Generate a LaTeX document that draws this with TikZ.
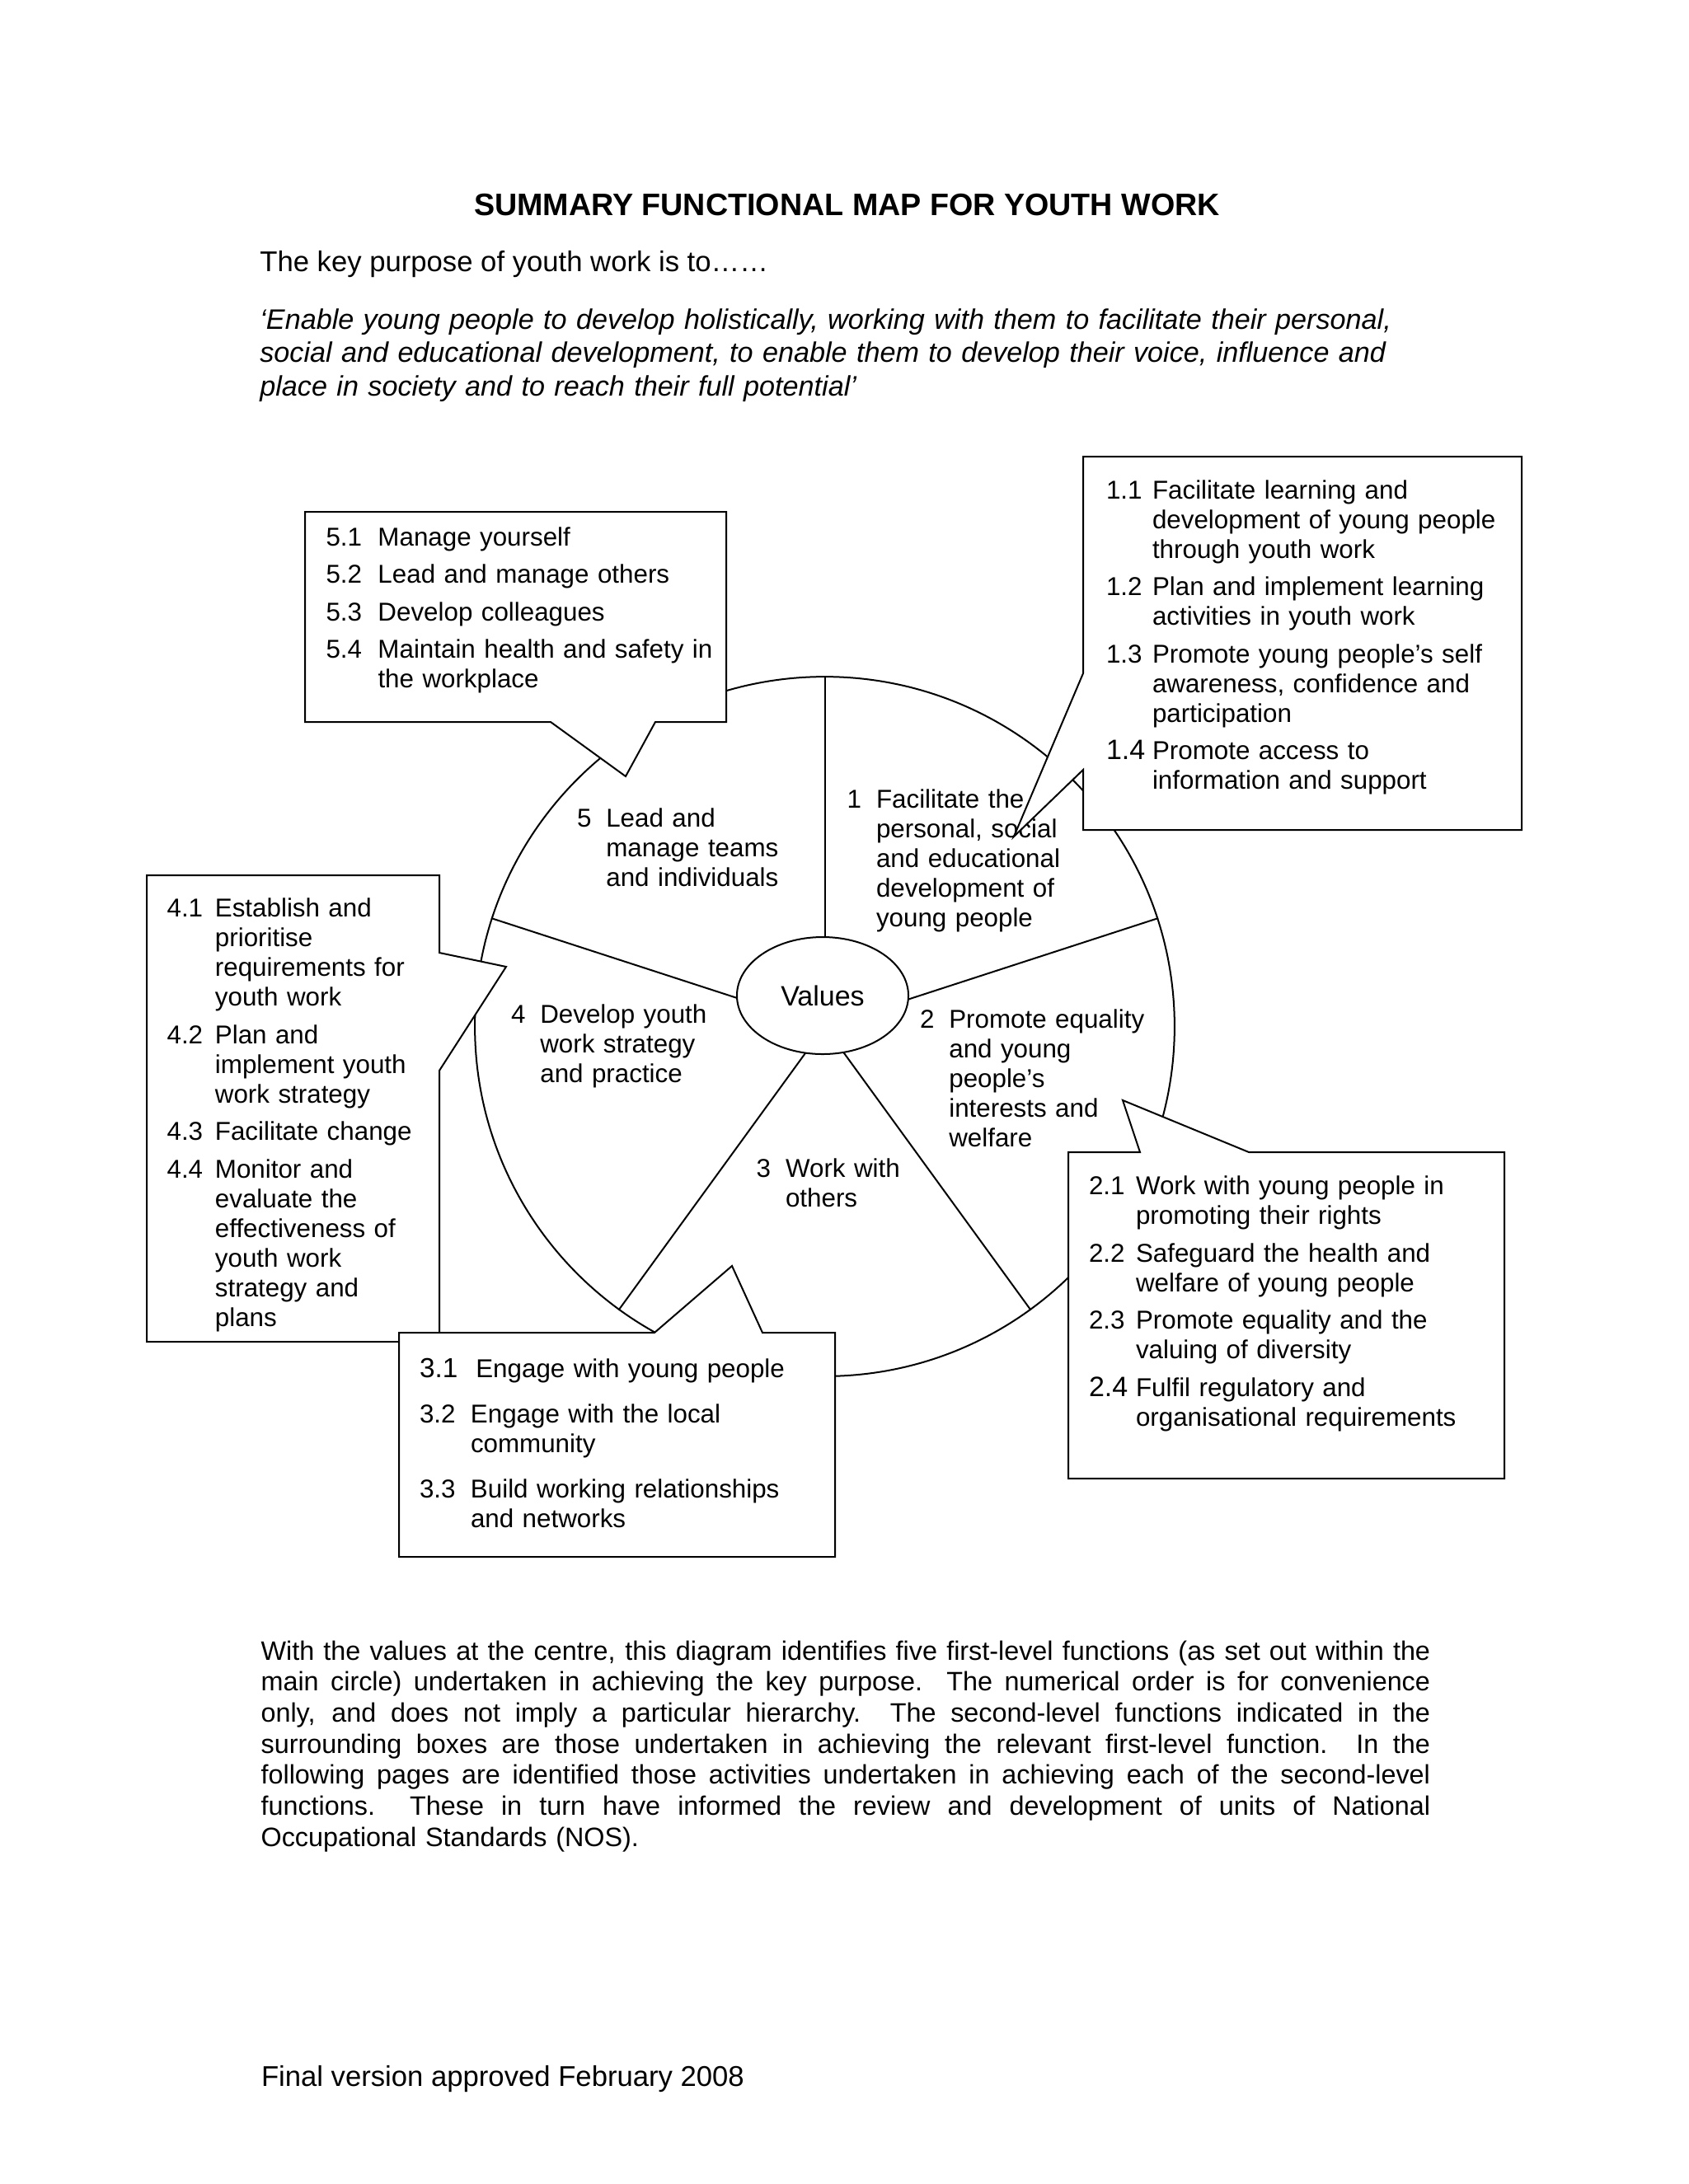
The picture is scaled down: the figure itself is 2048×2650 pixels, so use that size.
\documentclass[tikz,border=0pt]{standalone}
\usepackage{fontspec}
\setmainfont{Liberation Sans}
\usetikzlibrary{shapes.geometric}

% numbered entry with hanging indent
\newcommand{\fitem}[3]{\noindent\hangindent=#1\hangafter=1\makebox[#1][l]{#2}#3\par}
% one justified line of the closing note
\newlength{\notewd}
\setlength{\notewd}{425.5pt}
\newcommand{\jline}[1]{{\spaceskip=0pt\xspaceskip=0pt\makebox[\notewd][s]{#1}}}

\begin{document}
\begin{tikzpicture}[
  x=0.29995pt,
  y=-0.29995pt,
  line width=0.6pt,
  txt/.style={anchor=base west, inner sep=0pt, align=left},
  items/.style={txt, text width=160pt, font=\fontsize{9.4}{10.8}\selectfont\setlength{\parskip}{2.85pt}},
  sector/.style={txt, text width=100pt, font=\fontsize{9.4}{10.8}\selectfont},
  callout/.style={draw, fill=white},
  body/.style={txt, font=\fontsize{10.4}{11.2}\selectfont}
]

\useasboundingbox (0,0) rectangle (2048,2650);

\node[anchor=base, inner sep=0pt, font=\fontsize{11.3}{13}\selectfont\bfseries] (title) at (1027.5,261) {SUMMARY FUNCTIONAL MAP FOR YOUTH WORK};
\node[body] (purpose) at (314.4,329.3) {The key purpose of youth work is to……};
\node[body, text width=440pt, font=\fontsize{10.25}{12.15}\selectfont\itshape] (quote) at (314.4,399.3)
  {‘Enable young people to develop holistically, working with them to facilitate their personal,\\
   social and educational development, to enable them to develop their voice, influence and\\
   place in society and to reach their full potential’};

% the wheel
\node[circle, draw, minimum size=254.6pt, inner sep=0pt] (wheel) at (1000.5,1245.5) {};
\draw (wheel.center) -- (wheel.90);
\draw (wheel.center) -- (wheel.18);
\draw (wheel.center) -- (wheel.-54);
\draw (wheel.center) -- (wheel.-126);
\draw (wheel.center) -- (wheel.162);
\node[ellipse, draw, fill=white, minimum width=62.4pt, minimum height=42.6pt, inner sep=0pt, font=\fontsize{10.2}{12}\selectfont] (values) at (998,1208) {Values};

\node[sector] (s1) at (1026.7,980.7) {\fitem{10.6pt}{1}{Facilitate the\newline personal, social\newline and educational\newline development of\newline young people}};
\node[sector] (s2) at (1115,1247.3) {\fitem{10.6pt}{2}{Promote equality\newline and young\newline people’s\newline interests and\newline welfare}};
\node[sector] (s3) at (916.7,1428.3) {\fitem{10.6pt}{3}{Work with\newline others}};
\node[sector] (s4) at (619,1241) {\fitem{10.6pt}{4}{Develop youth\newline work strategy\newline and practice}};
\node[sector] (s5) at (699,1003.3) {\fitem{10.6pt}{5}{Lead and\newline manage teams\newline and individuals}};

% second-level boxes
\draw[callout] (370,621) -- (881,621) -- (881,876) -- (795,876) -- (759,942) -- (668,876) -- (370,876) -- cycle;
\node[items] (b5) at (394.5,662) {%
  \fitem{18.9pt}{5.1}{Manage yourself}
  \fitem{18.9pt}{5.2}{Lead and manage others}
  \fitem{18.9pt}{5.3}{Develop colleagues}
  \fitem{18.9pt}{5.4}{Maintain health and safety in\newline the workplace}};

\draw[callout] (1314,554) -- (1846,554) -- (1846,1007) -- (1314,1007) -- (1314,934) -- (1230,1015) -- (1314,817) -- cycle;
\node[items] (b1) at (1341,605) {%
  \fitem{16.8pt}{1.1}{Facilitate learning and\newline development of young people\newline through youth work}
  \fitem{16.8pt}{1.2}{Plan and implement learning\newline activities in youth work}
  \fitem{16.8pt}{1.3}{Promote young people’s self\newline awareness, confidence and\newline participation}
  \fitem{16.8pt}{{\fontsize{10.2}{10.8}\selectfont 1.4}}{Promote access to\newline information and support}};

\draw[callout] (178,1062) -- (533,1062) -- (533,1156) -- (614,1173) -- (533,1299) -- (533,1628) -- (178,1628) -- cycle;
\node[items] (b4) at (201.6,1112.8) {%
  \fitem{17.5pt}{4.1}{Establish and\newline prioritise\newline requirements for\newline youth work}
  \fitem{17.5pt}{4.2}{Plan and\newline implement youth\newline work strategy}
  \fitem{17.5pt}{4.3}{Facilitate change}
  \fitem{17.5pt}{4.4}{Monitor and\newline evaluate the\newline effectiveness of\newline youth work\newline strategy and\newline plans}};

\draw[callout] (1296,1398) -- (1383,1398) -- (1362,1335) -- (1515,1398) -- (1825,1398) -- (1825,1794) -- (1296,1794) -- cycle;
\node[items] (b2) at (1320,1449.7) {%
  \fitem{17.1pt}{2.1}{Work with young people in\newline promoting their rights}
  \fitem{17.1pt}{2.2}{Safeguard the health and\newline welfare of young people}
  \fitem{17.1pt}{2.3}{Promote equality and the\newline valuing of diversity}
  \fitem{17.1pt}{{\fontsize{10.2}{10.8}\selectfont 2.4}}{Fulfil regulatory and\newline organisational requirements}};

\draw[callout] (484,1617) -- (794,1617) -- (888,1536) -- (925,1617) -- (1013,1617) -- (1013,1889) -- (484,1889) -- cycle;
\node[items] (b3) at (508,1671) {\setlength{\parskip}{5.7pt}%
  \fitem{20.5pt}{{\fontsize{10}{10.8}\selectfont 3.1}}{Engage with young people}
  \fitem{18.6pt}{3.2}{Engage with the local\newline community}
  \fitem{18.6pt}{3.3}{Build working relationships\newline and networks}};

\node[body, text width=\notewd, font=\fontsize{9.7}{11.3}\selectfont] (note) at (315.6,2014) {%
  \jline{With the values at the centre, this diagram identifies five first-level functions (as set out within the}\\
  \jline{main circle) undertaken in achieving the key purpose.\ \ The numerical order is for convenience}\\
  \jline{only, and does not imply a particular hierarchy.\ \ The second-level functions indicated in the}\\
  \jline{surrounding boxes are those undertaken in achieving the relevant first-level function.\ \ In the}\\
  \jline{following pages are identified those activities undertaken in achieving each of the second-level}\\
  \jline{functions.\ \ These in turn have informed the review and development of units of National}\\
  Occupational Standards (NOS).};

\node[body] (approved) at (316,2531.7) {Final version approved February 2008};

\end{tikzpicture}
\end{document}
